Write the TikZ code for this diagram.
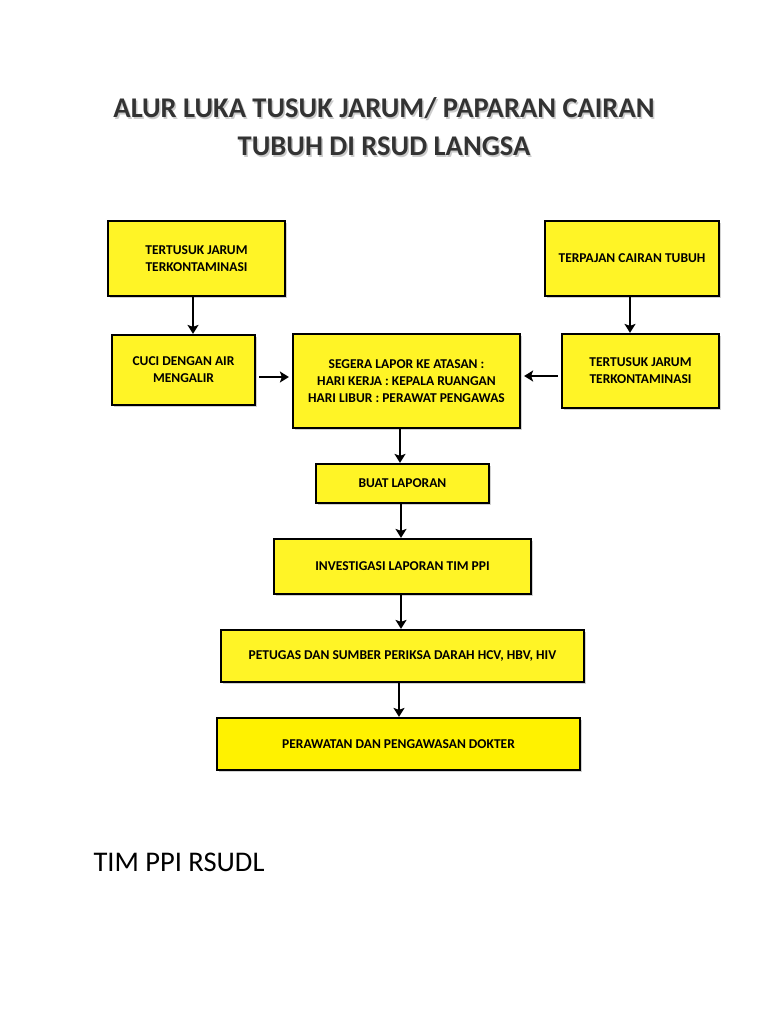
\documentclass[tikz,border=0pt]{standalone}
\usepackage{fontspec}
\setmainfont{Carlito}
\usetikzlibrary{arrows.meta,shadows}
\begin{document}
\begin{tikzpicture}[x=1pt,y=-1pt,
  box/.style={draw=black,line width=2.2pt,fill=yellow!85!white,align=center,font=\fontsize{13.5}{17}\selectfont\bfseries,inner sep=0pt,drop shadow={shadow xshift=2pt,shadow yshift=-2pt,opacity=0.35}},
  arr/.style={line width=2.8pt,-{Stealth[length=9pt,width=11pt,inset=2pt]}}]
\useasboundingbox[fill=white] (0,0) rectangle (768,1024);
\node[font=\fontsize{28.5}{38}\selectfont\bfseries,text=gray!40,align=center] at (385.5,128.5) {ALUR LUKA TUSUK JARUM/ PAPARAN CAIRAN\\TUBUH DI RSUD LANGSA};
\node[font=\fontsize{28.5}{38}\selectfont\bfseries,text=black!80,align=center] at (384,127) {ALUR LUKA TUSUK JARUM/ PAPARAN CAIRAN\\TUBUH DI RSUD LANGSA};
\node[box,minimum width=177pt,minimum height=75pt] (a) at (196.5,258.5) {TERTUSUK JARUM\\TERKONTAMINASI};
\node[box,minimum width=174pt,minimum height=75pt] (b) at (632,258.5) {TERPAJAN CAIRAN TUBUH};
\node[box,minimum width=143pt,minimum height=70pt] (c) at (183.5,370) {CUCI DENGAN AIR\\MENGALIR};
\node[box,minimum width=227pt,minimum height=94pt] (d) at (406.5,381) {SEGERA LAPOR KE ATASAN :\\HARI KERJA : KEPALA RUANGAN\\HARI LIBUR : PERAWAT PENGAWAS};
\node[box,minimum width=157pt,minimum height=74pt] (e) at (640.5,371) {TERTUSUK JARUM\\TERKONTAMINASI};
\node[box,minimum width=173pt,minimum height=39pt] (f) at (402.5,483.5) {BUAT LAPORAN};
\node[box,minimum width=257pt,minimum height=55pt] (g) at (402.5,566.5) {INVESTIGASI LAPORAN TIM PPI};
\node[box,minimum width=363pt,minimum height=52pt] (h) at (402.5,656) {PETUGAS DAN SUMBER PERIKSA DARAH HCV, HBV, HIV};
\node[box,fill=yellow,minimum width=363pt,minimum height=52pt] (i) at (398.5,744) {PERAWATAN DAN PENGAWASAN DOKTER};
\node[anchor=west,font=\fontsize{28.5}{32}\selectfont] (t) at (90,862) {TIM PPI RSUDL};
\draw[arr] (a.south -| 193,0) -- (c.north -| 193,0);
\draw[arr] (b.south -| 630,0) -- (e.north -| 630,0);
\draw[arr] ([xshift=3pt]c.east |- 0,377) -- ([xshift=-3pt]d.west |- 0,377);
\draw[arr] ([xshift=-3pt]e.west |- 0,376) -- ([xshift=3pt]d.east |- 0,376);
\draw[arr] (d.south -| 400,0) -- (f.north -| 400,0);
\draw[arr] (f.south -| 401,0) -- (g.north -| 401,0);
\draw[arr] (g.south -| 401,0) -- (h.north -| 401,0);
\draw[arr] (h.south -| 399,0) -- (i.north -| 399,0);
\end{tikzpicture}
\end{document}
